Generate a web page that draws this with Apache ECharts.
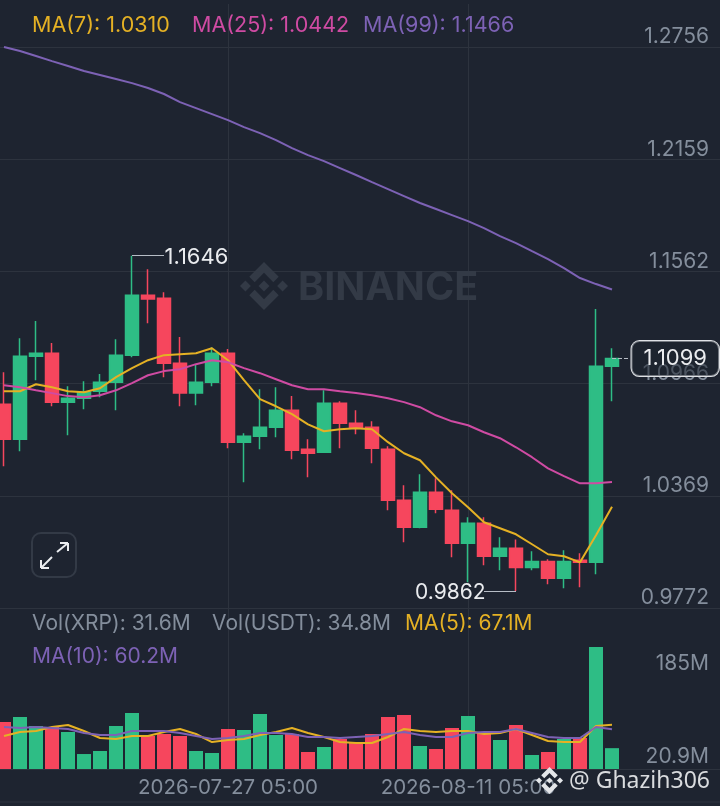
<!DOCTYPE html>
<html>
<head>
<meta charset="utf-8">
<style>html,body{margin:0;padding:0;background:#1e2430}#c{width:720px;height:806px}</style>
<script src="https://cdn.jsdelivr.net/npm/echarts@6/dist/echarts.min.js"></script>
</head>
<body>
<div id="c"></div>
<script>
const dates = ['2026-07-13 05:00','2026-07-14 05:00','2026-07-15 05:00','2026-07-16 05:00','2026-07-17 05:00','2026-07-18 05:00','2026-07-19 05:00','2026-07-20 05:00','2026-07-21 05:00','2026-07-22 05:00','2026-07-23 05:00','2026-07-24 05:00','2026-07-25 05:00','2026-07-26 05:00','2026-07-27 05:00','2026-07-28 05:00','2026-07-29 05:00','2026-07-30 05:00','2026-07-31 05:00','2026-08-01 05:00','2026-08-02 05:00','2026-08-03 05:00','2026-08-04 05:00','2026-08-05 05:00','2026-08-06 05:00','2026-08-07 05:00','2026-08-08 05:00','2026-08-09 05:00','2026-08-10 05:00','2026-08-11 05:00','2026-08-12 05:00','2026-08-13 05:00','2026-08-14 05:00','2026-08-15 05:00','2026-08-16 05:00','2026-08-17 05:00','2026-08-18 05:00','2026-08-19 05:00','2026-08-20 05:00','2026-08-21 05:00','2026-08-22 05:00','2026-08-23 05:00','2026-08-24 05:00','2026-08-25 05:00','2026-08-26 05:00','2026-08-27 05:00'];
// open, close, low, high
const candles = [
[1.0856,1.0670,1.0526,1.1026],[1.0670,1.1111,1.0606,1.1207],[1.1111,1.1127,1.0984,1.1298],[1.1127,1.0867,1.0845,1.1181],
[1.0867,1.0888,1.0691,1.0952],[1.0888,1.0920,1.0829,1.0978],[1.0925,1.0973,1.0893,1.1016],[1.0973,1.1117,1.0824,1.1202],
[1.1117,1.1436,1.1106,1.1646],[1.1436,1.1415,1.1287,1.1574],[1.1420,1.1074,1.1000,1.1452],[1.1074,1.0915,1.0845,1.1213],
[1.0915,1.0973,1.0851,1.1064],[1.0973,1.1127,1.0952,1.1159],[1.1127,1.0654,1.0622,1.1149],[1.0654,1.0686,1.0441,1.0702],
[1.0686,1.0734,1.0616,1.0936],[1.0734,1.0824,1.0680,1.0946],[1.0824,1.0611,1.0563,1.0899],[1.0616,1.0595,1.0467,1.0670],
[1.0600,1.0861,1.0600,1.0930],[1.0861,1.0755,1.0622,1.0872],[1.0755,1.0734,1.0696,1.0824],[1.0734,1.0622,1.0542,1.0765],
[1.0616,1.0345,1.0292,1.0632],[1.0345,1.0201,1.0122,1.0425],[1.0201,1.0388,1.0196,1.0483],[1.0388,1.0297,1.0276,1.0462],
[1.0292,1.0116,1.0042,1.0398],[1.0116,1.0223,0.9909,1.0255],[1.0223,1.0047,1.0000,1.0255],[1.0047,1.0090,0.9973,1.0148],
[1.0090,0.9988,0.9862,1.0137],[0.9988,1.0020,0.9973,1.0074],[1.0020,0.9930,0.9898,1.0031],[0.9930,1.0020,0.9877,1.0079],
[1.0026,1.0015,0.9882,1.0063],[1.0015,1.1058,0.9951,1.1362],[1.1058,1.1099,1.0872,1.1154]];
const ma7 = [1.0925,1.0925,1.0962,1.0946,1.0925,1.0920,1.0941,1.1000,1.1048,1.1090,1.1117,1.1122,1.1127,1.1154,1.1090,1.0984,1.0883,1.0845,1.0803,1.0749,1.0712,1.0723,1.0728,1.0723,1.0654,1.0595,1.0558,1.0467,1.0382,1.0308,1.0228,1.0196,1.0164,1.0111,1.0058,1.0047,1.0015,1.0159,1.0310];
const ma25 = [1.0957,1.0946,1.0930,1.0915,1.0899,1.0893,1.0904,1.0930,1.0968,1.1010,1.1032,1.1042,1.1069,1.1090,1.1079,1.1048,1.1021,1.0989,1.0957,1.0936,1.0936,1.0925,1.0915,1.0904,1.0888,1.0867,1.0840,1.0797,1.0765,1.0744,1.0707,1.0675,1.0627,1.0574,1.0515,1.0473,1.0435,1.0435,1.0442];
const ma99 = [1.2756,1.2735,1.2708,1.2681,1.2655,1.2628,1.2607,1.2586,1.2564,1.2538,1.2506,1.2463,1.2431,1.2399,1.2367,1.2330,1.2298,1.2261,1.2218,1.2181,1.2149,1.2112,1.2075,1.2037,1.2000,1.1963,1.1926,1.1894,1.1862,1.1830,1.1793,1.1750,1.1713,1.1670,1.1628,1.1580,1.1527,1.1495,1.1466];
const volumes = [71.3,78.9,65.2,63.7,56.1,22.7,27.3,65.2,84.9,50.0,53.1,50.0,27.3,24.3,60.7,59.1,83.4,51.6,53.1,25.8,33.4,45.5,40.9,53.1,78.9,81.9,34.9,30.3,62.2,80.4,54.6,44.0,66.7,21.2,25.8,45.5,47.0,185,31.6];
const volMa5 = [50.0,56.1,57.6,63.7,66.7,57.6,47.0,45.5,50.0,50.0,56.1,60.7,53.1,40.9,44.0,45.5,51.6,56.1,62.2,54.6,48.5,40.9,39.4,39.4,48.5,60.7,57.6,56.1,57.6,57.6,53.1,54.6,60.7,51.6,42.5,40.9,40.9,65.2,67.1];
const volMa10 = [63.7,62.2,63.7,62.2,60.7,54.6,51.6,51.6,57.6,57.6,57.6,54.6,50.0,45.5,47.0,50.0,54.6,54.6,53.1,48.5,48.5,47.0,48.5,50.0,53.1,56.1,51.6,48.5,48.5,54.6,56.1,56.1,60.7,54.6,48.5,47.0,47.0,63.7,60.2];
const priceTicks = [0.9772,1.0369,1.0966,1.1562,1.2159,1.2756];
const volTicks = [20.9,185];
const highIdx = 8, highVal = 1.1646, lowIdx = 32, lowVal = 0.9862, lastVal = 1.1099;
const priceLegend = [['MA(7): 1.0310',32,'#e5b124'],['MA(25): 1.0442',192,'#cf4ba3'],['MA(99): 1.1466',363,'#7d62b5']];
const volLegend = [['Vol(XRP): 31.6M',32,624,'#848e9c'],['Vol(USDT): 34.8M',212,624,'#848e9c'],['MA(5): 67.1M',405,624,'#e5b124'],['MA(10): 60.2M',32,656.5,'#7d62b5']];

const FONT = 'Inter', FS = 21;
const UP = '#2ebd85', DOWN = '#f6465d', GRID = '#2d333e', AXIS = '#848e9c', BG = '#1e2430', WM = '#333a46';
const logoPolys = [
 [[16,0],[25.82,9.83],[22.21,13.44],[16,7.23],[9.79,13.44],[6.18,9.83]],
 [[0,16],[3.61,12.39],[7.22,16],[3.61,19.61]],
 [[24.78,16],[28.39,12.39],[32,16],[28.39,19.61]],
 [[16,12.34],[19.66,16],[16,19.66],[12.34,16]],
 [[16,32],[25.82,22.17],[22.21,18.56],[16,24.77],[9.79,18.56],[6.18,22.18]]];
const logo = (x,y,size,fill,z) => ({type:'group',x,y,scaleX:size/32,scaleY:size/32,silent:true,
  children:logoPolys.map(p=>({type:'polygon',z,silent:true,shape:{points:p},style:{fill}}))});
const shown = i => i === 14 || i === 29;
const lineS = (name, data, color, xi, yi, w) => ({type:'line',name,data,xAxisIndex:xi,yAxisIndex:yi,symbol:'none',smooth:false,z:4,lineStyle:{color,width:w},silent:true});
const xBase = {type:'category',data:dates,axisTick:{show:false},
  splitLine:{show:true,alignWithLabel:true,interval:shown,lineStyle:{color:GRID,width:1}}};
const text = (t,x,y,fill,size) => ({type:'text',x,y,z:20,silent:true,style:{text:t,fill,fontSize:size,fontFamily:FONT,verticalAlign:'middle'}});
const dotPoint = {symbol:'circle',symbolSize:1,itemStyle:{color:'rgba(0,0,0,0)'}};

const chart = echarts.init(document.getElementById('c'),null,{renderer:'canvas'});
chart.setOption({
  animation:false,
  backgroundColor:BG,
  grid:[{left:-4,width:736,top:4,height:604,outerBoundsMode:'none'},{left:-4,width:736,top:608,height:161,outerBoundsMode:'none'}],
  xAxis:[
    Object.assign({},xBase,{gridIndex:0,axisLine:{show:false},axisLabel:{show:false}}),
    Object.assign({},xBase,{gridIndex:1,axisLine:{show:true,lineStyle:{color:GRID}},
      axisLabel:{show:true,interval:shown,color:AXIS,fontFamily:FONT,fontSize:20.5,margin:9,lineHeight:20}})
  ],
  yAxis:[
    {type:'value',gridIndex:0,position:'right',min:0.9772,max:1.29847,scale:true,
     axisLine:{show:false},axisTick:{show:false,customValues:priceTicks},
     splitLine:{show:true,lineStyle:{color:GRID,width:1}},
     axisLabel:{inside:true,margin:23,customValues:priceTicks,color:AXIS,fontFamily:FONT,fontSize:FS,verticalAlign:'bottom',lineHeight:20,
       formatter:v=>v.toFixed(4),showMinLabel:true,showMaxLabel:true}},
    {type:'value',gridIndex:1,position:'right',min:0,max:244.14,
     axisLine:{show:false},axisTick:{show:false,customValues:volTicks},splitLine:{show:false},
     axisLabel:{inside:true,margin:23,customValues:volTicks,color:AXIS,fontFamily:FONT,fontSize:FS,
       formatter:v=>(v>100?'{t|':'{m|')+v+'M}',showMinLabel:true,showMaxLabel:true,
       rich:{t:{padding:[34,0,0,0],color:AXIS,fontFamily:FONT,fontSize:FS},m:{padding:[2,0,0,0],color:AXIS,fontFamily:FONT,fontSize:FS}}}}
  ],
  series:[
    {type:'candlestick',name:'XRPUSDT',xAxisIndex:0,yAxisIndex:0,data:candles,barWidth:13,z:3,silent:true,
     itemStyle:{color:UP,color0:DOWN,borderColor:UP,borderColor0:DOWN,borderWidth:1.5},
     markLine:{silent:true,symbol:'none',z:5,label:{show:false},animation:false,
       lineStyle:{color:'#b7bdc6',width:1,type:'solid'},
       data:[
         [{coord:[highIdx,highVal]},{coord:[highIdx+2,highVal]}],
         [{coord:[lowIdx,lowVal]},{coord:[lowIdx-2,lowVal]}],
         [{coord:[38,lastVal],lineStyle:{type:'dashed',color:'#b7bdc6'}},{coord:[39,lastVal]}]
       ]},
     markPoint:{silent:true,z:12,animation:false,
       data:[
         Object.assign({coord:[highIdx+2,highVal],label:{show:true,position:'right',distance:0,offset:[0,1.5],formatter:highVal.toFixed(4),color:'#eaecef',fontFamily:FONT,fontSize:22}},dotPoint),
         Object.assign({coord:[lowIdx-2,lowVal],label:{show:true,position:'left',distance:0,offset:[2,1.5],formatter:lowVal.toFixed(4),color:'#eaecef',fontFamily:FONT,fontSize:FS}},dotPoint),
         Object.assign({coord:[38,lastVal],label:{show:true,position:'right',distance:19,formatter:lastVal.toFixed(4),color:'#eaecef',fontFamily:FONT,fontSize:22,
            padding:[7,12,6,12],borderRadius:8,borderWidth:1,borderColor:'#dfe2e6',backgroundColor:'rgba(30,36,48,0.55)'}},dotPoint)
       ]}},
    lineS('MA7',ma7,'#e5b124',0,0,2),
    lineS('MA25',ma25,'#cf4ba3',0,0,2),
    lineS('MA99',ma99,'#7d62b5',0,0,2),
    {type:'bar',name:'Vol',xAxisIndex:1,yAxisIndex:1,barWidth:14,z:3,silent:true,
     data:volumes.map((v,i)=>({value:v,itemStyle:{color:candles[i][1]>=candles[i][0]?UP:DOWN}}))},
    lineS('VolMA5',volMa5,'#e5b124',1,1,2),
    lineS('VolMA10',volMa10,'#7d62b5',1,1,2)
  ],
  graphic:[
    {type:'line',shape:{x1:0,y1:802,x2:720,y2:802},style:{stroke:GRID,lineWidth:1},silent:true},
    logo(240,262,48,WM,1),
    {type:'text',x:298,y:288,z:1,silent:true,style:{text:'BINANCE',fill:WM,fontFamily:FONT,fontSize:39.5,fontWeight:700,verticalAlign:'middle'}},
    ...priceLegend.map(l=>text(l[0],l[1],25.5,l[2],21.5)),
    ...volLegend.map(l=>text(l[0],l[1],l[2],l[3],FS)),
    {type:'rect',shape:{x:32,y:533,width:44,height:44,r:9},style:{fill:'none',stroke:'#333a46',lineWidth:2},silent:true,z:20},
    ...[[[57,552],[68,543]],[[60,543],[68,543]],[[68,543],[68,551]],[[52,557],[41,568]],[[41,560],[41,568]],[[41,568],[49,568]]].map(p=>({type:'polyline',z:21,silent:true,shape:{points:p},style:{stroke:'#eaecef',lineWidth:2,fill:'none'}})),
    logo(536,767,27,'#e4e6e9',30),
    {type:'text',x:569,y:781,z:30,silent:true,style:{text:'@ Ghazih306',fill:'#d9dbde',fontFamily:'Noto Sans',fontSize:23,verticalAlign:'middle'}}
  ]
});
</script>
</body>
</html>
